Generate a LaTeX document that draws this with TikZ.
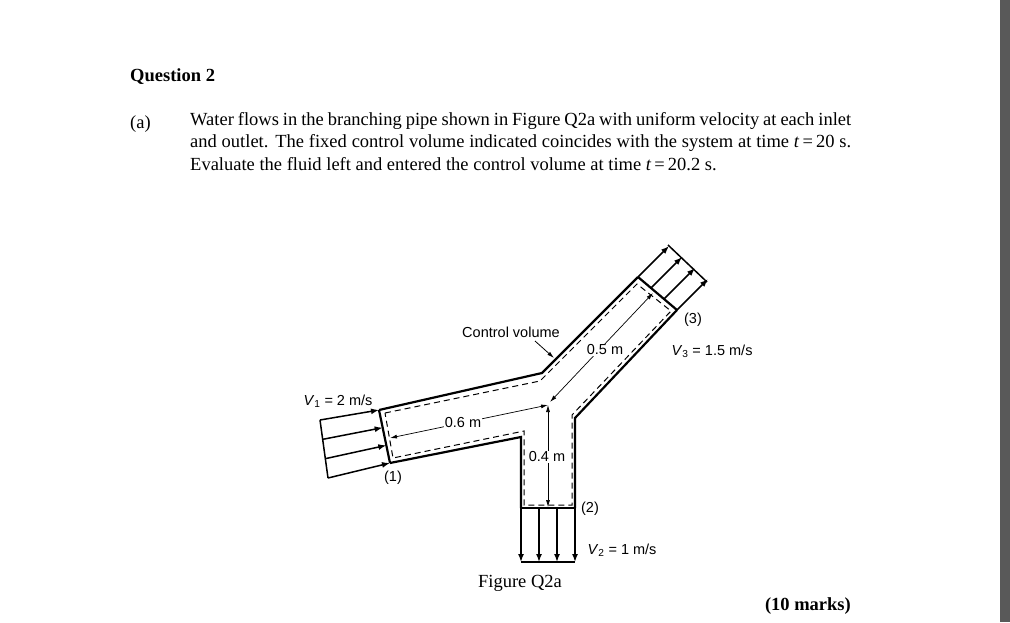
\documentclass[tikz,border=0pt]{standalone}
\usepackage{fontspec}
\setmainfont{Liberation Serif}
\newfontfamily\lsans{Liberation Sans}
\usetikzlibrary{arrows.meta,calc}
\begin{document}
\begin{tikzpicture}[x=1pt,y=-1pt,
  wall/.style={line width=2.2pt,line join=miter},
  cv/.style={line width=1pt,dash pattern=on 6pt off 4pt},
  flow/.style={line width=1.5pt,-{Latex[length=8pt,width=6pt]}},
  dim/.style={line width=0.7pt,{Latex[length=7pt,width=4pt]}-{Latex[length=7pt,width=4pt]}},
  lab/.style={font=\lsans\fontsize{14.5}{16}\selectfont,inner sep=1pt},
  txt/.style={font=\fontsize{18.5}{22}\selectfont,inner sep=0pt}]
\useasboundingbox (0,0) rectangle (1010,622);
\fill[gray!70!black] (1000,0) rectangle (1010,622);
% texts
\node[txt,anchor=base west,font=\bfseries\fontsize{18.5}{20}\selectfont] (q) at (130,81) {Question 2};
\node[txt,anchor=base west] (a) at (130,128) {(a)};
\node[txt,anchor=north west] (p) at (190,112) {\parbox{661pt}{\fontsize{18.5}{22.4}\selectfont Water flows in the branching pipe shown in Figure Q2a with uniform velocity at each inlet and outlet. The fixed control volume indicated coincides with the system at time \textit{t}\,=\,20 s. Evaluate the fluid left and entered the control volume at time \textit{t}\,=\,20.2~s.}};
\node[txt,anchor=base] (fig) at (520,587) {Figure Q2a};
\node[txt,anchor=base east,font=\bfseries\fontsize{18.5}{20}\selectfont] (m) at (851,610) {(10 marks)};
% pipe walls
\coordinate (s1t) at (379,410); \coordinate (s1b) at (390,463);
\coordinate (k) at (542,373); \coordinate (s3l) at (638,277); \coordinate (s3r) at (677,310);
\coordinate (cr) at (575,418); \coordinate (s2r) at (575,508); \coordinate (s2l) at (521,508);
\coordinate (cl) at (521,437);
\draw[wall] (s1t) -- (k) -- (s3l);
\draw[wall] (s3r) -- (cr) -- (s2r);
\draw[wall] (s2l) -- (cl) -- (s1b);
\draw[wall] (s1t) -- (s1b);
\draw[wall] (s3l) -- (s3r);
\draw[wall] (s2l) -- (s2r);
% control volume
\draw[cv] (385,413) -- (540,381) -- (637,284) -- (671,311) -- (572,415) -- (572,505) -- (524,505) -- (524,431) -- (393,458) -- cycle;
% inlet profile
\draw[line width=1.5pt] (320,420) -- (328,478);
\foreach \t in {0,1,2,3}{
  \draw[flow] ($(320,420)!\t/3!(328,478)$) -- ($(s1t)!\t/3!(s1b)$);
}
% outlet 2
\draw[line width=1.5pt] (521,562) -- (575,562);
\foreach \t in {0,1,2,3}{
  \draw[flow] ($(s2l)!\t/3!(s2r)$) -- ++(0,54);
}
% outlet 3
\draw[line width=1.5pt] (668,245) -- (707,282);
\foreach \t in {0,1,2,3}{
  \draw[flow] ($(s3l)!\t/3!(s3r)$) -- ++(31,-31);
}
% dimensions
\coordinate (d0) at (548,405);
\draw[dim] (390,438) -- (d0);
\node[lab,fill=white] (l06) at (463,423) {0.6 m};
\draw[dim] (d0) -- (548,507);
\node[lab,fill=white] (l04) at (547,457) {0.4 m};
\draw[dim] (550,402) -- (653,293);
\node[lab,fill=white] (l05) at (605,350) {0.5 m};
% labels
\node[lab] (cvl) at (511,332) {Control volume};
\draw[line width=0.8pt,-{Latex[length=7pt,width=4pt]}] (535,341) -- (554,358);
\node[lab] (n3) at (693,320) {(3)};
\node[lab] (v3) at (712,351) {\textit{V}\textsubscript{3} = 1.5 m/s};
\node[lab] (v1) at (338,401) {\textit{V}\textsubscript{1} = 2 m/s};
\node[lab] (n1) at (393,478) {(1)};
\node[lab] (n2) at (590,509) {(2)};
\node[lab] (v2) at (622,550) {\textit{V}\textsubscript{2} = 1 m/s};
\end{tikzpicture}
\end{document}
